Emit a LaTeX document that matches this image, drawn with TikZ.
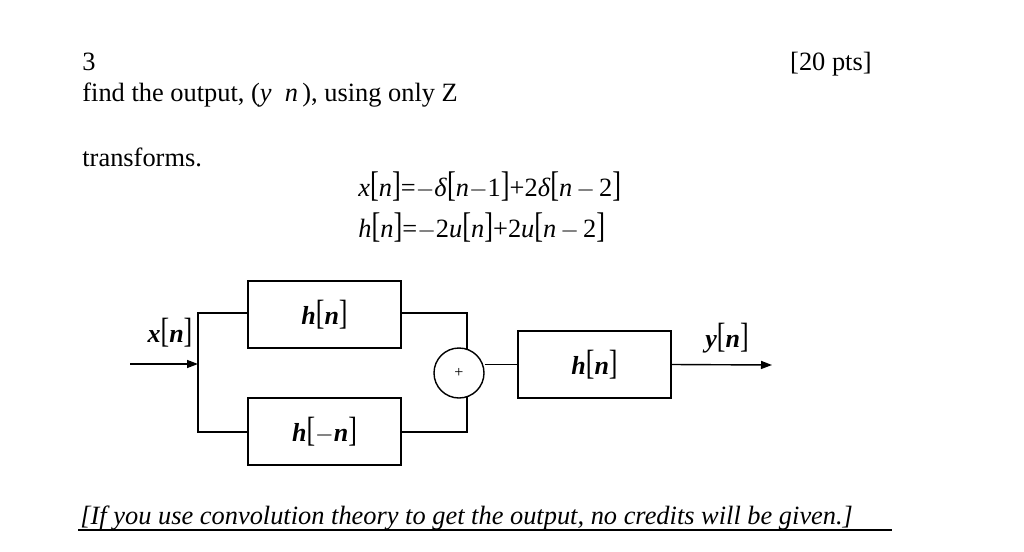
\documentclass[tikz,border=0pt]{standalone}
\usepackage{fontspec}
\setmainfont{Liberation Serif}
\usepackage{graphicx}
\usetikzlibrary{positioning,calc,arrows.meta}
\newcommand{\lbr}{\scalebox{1}[1.35]{[}}
\newcommand{\rbr}{\scalebox{1}[1.35]{]}}
\newcommand{\bsig}[2]{\textbf{\textit{#1}}\lbr\textbf{\textit{#2}}\rbr}
\tikzset{
  block/.style={draw, line width=0.7pt, minimum width=76.5pt, minimum height=33.5pt, inner sep=0pt, font=\fontsize{13}{15}\selectfont},
  wire/.style={line width=0.7pt},
  txt/.style={anchor=base west, inner sep=0pt, font=\fontsize{13.2}{15}\selectfont}
}
\begin{document}
\begin{tikzpicture}[x=0.5pt,y=-0.5pt,>={Triangle[length=5.5pt,width=4pt]}]
  \useasboundingbox (0,0) rectangle (1024,552);

  % Text
  \node[txt] (num) at (82,70) {3};
  \node[txt, anchor=base east] (pts) at (872,70) {[20 pts]};
  \node[txt] (line1) at (82,101) {find the output, (\textit{y}\,\,\,\textit{n}\,), using only Z};
  \node[txt] (line2) at (82,166) {transforms.};
  \node[txt] (eqx) at (358,196) {\textit{x}\lbr\textit{n}\rbr=$-$\textit{δ}\lbr\textit{n}$-$1\rbr+2\textit{δ}\lbr\textit{n}$\,-\,$2\rbr};
  \node[txt] (eqh) at (358,237) {\textit{h}\lbr\textit{n}\rbr=$-$2\textit{u}\lbr\textit{n}\rbr+2\textit{u}\lbr\textit{n}$\,-\,$2\rbr};

  % Blocks
  \node[block] (htop) at (324.5,314.5) {\bsig{h}{n}};
  \node[block] (hbot) at (324.5,431.5) {\bsig{h}{$-$n}};
  \node[draw, circle, line width=0.7pt, minimum size=25pt, inner sep=0pt] (sum) at (459,373) {\footnotesize +};
  \node[block] (hout) at (594.5,364.5) {\bsig{h}{n}};

  % Wires
  \coordinate (in) at (130,364);
  \coordinate (split) at (198,364);
  \coordinate (out) at (772,365);
  \draw[wire,->] (in) -- (split);
  \draw[wire] (htop.west |- 0,313) -| (split) |- (hbot.west |- 0,432);
  \draw[wire] (htop.east |- 0,313) -| (467,349);
  \draw[wire] (hbot.east |- 0,432) -| (467,397);
  \draw[wire] (sum.east |- hout.west) -- (hout.west);
  \draw[wire,->] (hout.east) -- (out);

  \node[block, draw=none, minimum size=0pt] (xlab) at (170,333) {\bsig{x}{n}};
  \node[block, draw=none, minimum size=0pt] (ylab) at (727,338) {\bsig{y}{n}};

  % Note
  \node[txt] (note) at (80,524) {\textit{[If you use convolution theory to get the output, no credits will be given.]}};
  \draw[wire] (78,530) -- (892,530);
\end{tikzpicture}
\end{document}
